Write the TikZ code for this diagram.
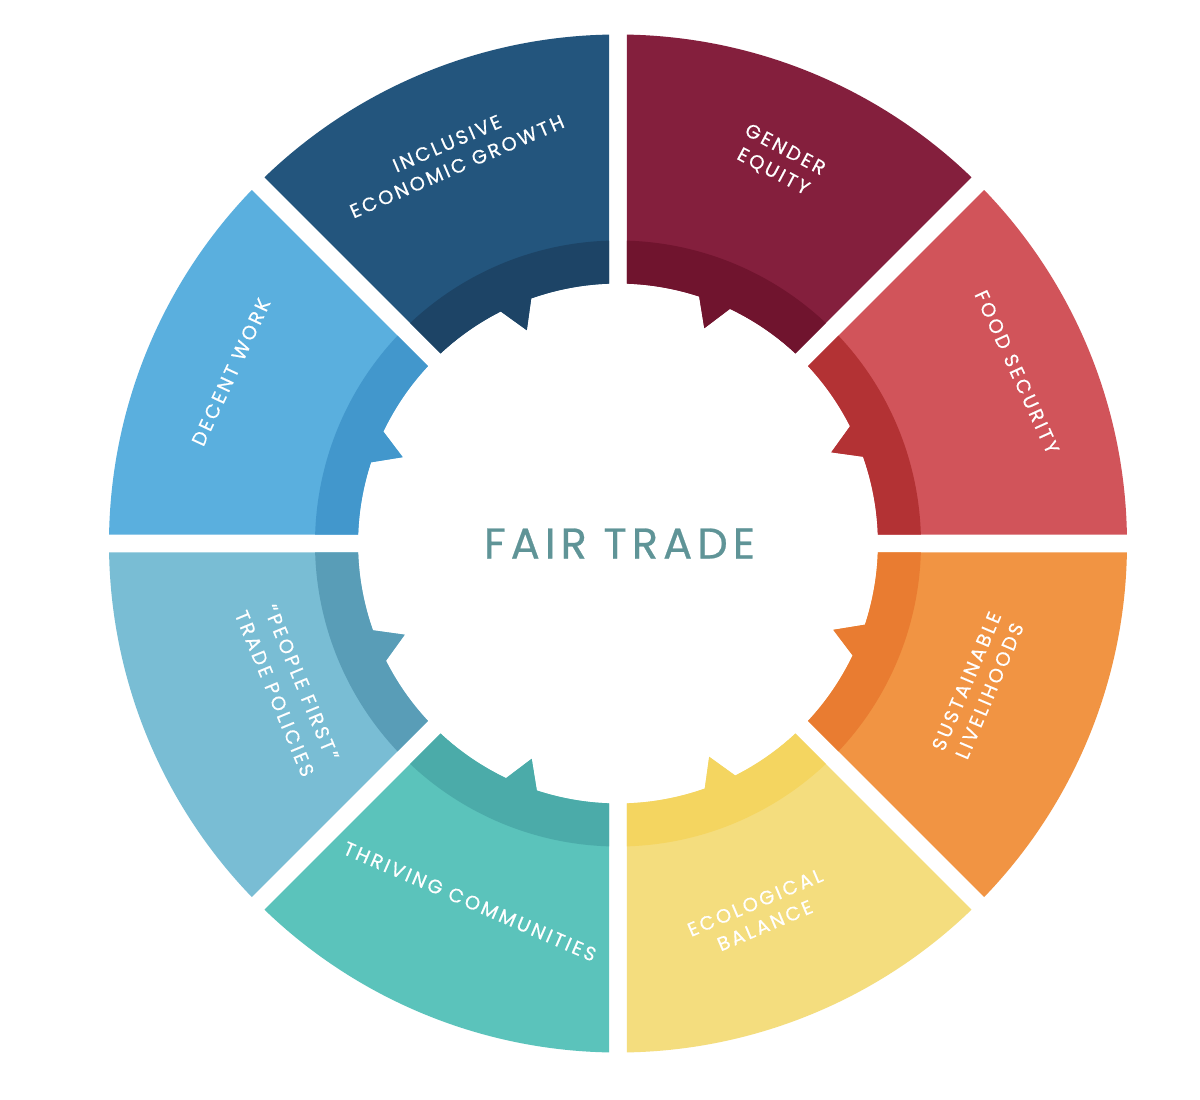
\documentclass[tikz,border=0pt]{standalone}
\usepackage{fontspec}
\newfontfamily\labelfont{Poppins}[LetterSpace=14,FakeBold=0.5]
\newfontfamily\titlefont{Poppins}[LetterSpace=12,FakeBold=0.6]
\definecolor{foodlight}{HTML}{D1545A}
\definecolor{fooddark}{HTML}{B33234}
\definecolor{genderlight}{HTML}{841F3D}
\definecolor{genderdark}{HTML}{70142E}
\definecolor{growthlight}{HTML}{23557D}
\definecolor{growthdark}{HTML}{1D4466}
\definecolor{worklight}{HTML}{5AAFDE}
\definecolor{workdark}{HTML}{4297CC}
\definecolor{policylight}{HTML}{79BDD4}
\definecolor{policydark}{HTML}{599DB7}
\definecolor{communitylight}{HTML}{5BC3BB}
\definecolor{communitydark}{HTML}{4BABA9}
\definecolor{ecologylight}{HTML}{F4DD7E}
\definecolor{ecologydark}{HTML}{F4D560}
\definecolor{livelihoodlight}{HTML}{F19443}
\definecolor{livelihooddark}{HTML}{E97C31}
\definecolor{titlegray}{HTML}{5F9497}
\newcommand{\ringpart}[2]{({#1+asin(9/#2)}:#2) arc[start angle={#1+asin(9/#2)}, end angle={#1+45-asin(9/#2)}, radius=#2] -- ({#1+45-asin(9/260)}:260) arc[start angle={#1+45-asin(9/260)}, end angle={#1+26.8}, radius=260] -- ({#1+23.15}:232) -- ({#1+19.5}:260) arc[start angle={#1+19.5}, end angle={#1+asin(9/260)}, radius=260] -- cycle}
\begin{document}
\begin{tikzpicture}[x=0.5pt,y=0.5pt,segtext/.style={text=white,font=\labelfont\fontsize{9.7}{12.5}\selectfont,align=center}]
\fill[white] (-618,-555.5) rectangle (582,543.5);
\useasboundingbox (-618,-555.5) rectangle (582,543.5);
\fill[foodlight] \ringpart{0}{509};
\fill[fooddark] \ringpart{0}{303};
\fill[genderlight] \ringpart{45}{509};
\fill[genderdark] \ringpart{45}{303};
\fill[growthlight] \ringpart{90}{509};
\fill[growthdark] \ringpart{90}{303};
\fill[worklight] \ringpart{135}{509};
\fill[workdark] \ringpart{135}{303};
\fill[policylight] \ringpart{180}{509};
\fill[policydark] \ringpart{180}{303};
\fill[communitylight] \ringpart{225}{509};
\fill[communitydark] \ringpart{225}{303};
\fill[ecologylight] \ringpart{270}{509};
\fill[ecologydark] \ringpart{270}{303};
\fill[livelihoodlight] \ringpart{315}{509};
\fill[livelihooddark] \ringpart{315}{303};

\node[segtext,rotate=23.4] (growth) at (-166,388.5) {INCLUSIVE\\ECONOMIC GROWTH};
\node[segtext,rotate=-28] (gender) at (161,382.5) {GENDER\\EQUITY};
\node[segtext,rotate=-65.5] (food) at (399,171.5) {FOOD SECURITY};
\node[segtext,rotate=67] (livelihoods) at (360,-142.5) {SUSTAINABLE\\LIVELIHOODS};
\node[segtext,rotate=23] (ecology) at (142,-370.5) {ECOLOGICAL\\BALANCE};
\node[segtext,rotate=-23.4] (communities) at (-148,-358) {THRIVING COMMUNITIES};
\node[segtext,rotate=-67.5,font=\labelfont\fontsize{9.7}{14.5}\selectfont] (policies) at (-330,-144.5) {“PEOPLE FIRST”\\TRADE POLICIES};
\node[segtext,rotate=65] (work) at (-387,171.5) {DECENT WORK};
\node[text=titlegray,font=\titlefont\fontsize{21.5}{26}\selectfont] (title) at (1.5,0) {FAIR TRADE};
\end{tikzpicture}
\end{document}
